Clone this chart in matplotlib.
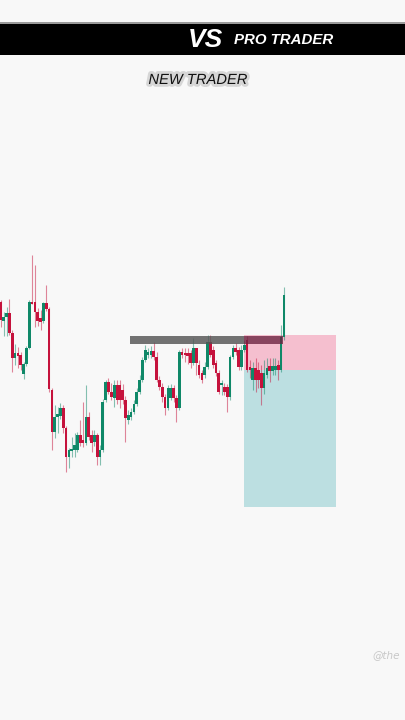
import matplotlib
matplotlib.use("Agg")
import matplotlib.pyplot as plt
import matplotlib.patheffects as pe
from matplotlib.patches import Rectangle

# Velas (precio en unidades del gráfico): apertura, cierre, máximo, mínimo
opens = [418, 399, 403, 407, 387, 362, 367, 365, 346, 356, 372, 418, 418, 408, 402, 399,
         417, 411, 330, 288, 303, 304, 312, 292, 263, 269, 270, 270, 285, 280, 277, 303,
         285, 278, 285, 263, 270, 320, 338, 328, 322, 335, 335, 330, 320, 300, 303, 308,
         316, 328, 340, 360, 365, 365, 369, 363, 340, 333, 323, 312, 322, 332, 322, 312,
         368, 367, 367, 367, 357, 372, 355, 347, 345, 353, 378, 370, 357, 347, 335, 333,
         333, 323, 363, 372, 370, 353, 370, 380, 353, 340, 352, 350, 347, 332, 345, 354,
         349, 350, 355, 350, 383]
closes = [400, 403, 407, 387, 362, 367, 364, 355, 356, 372, 418, 416, 408, 399, 398, 417,
          411, 331, 288, 303, 306, 312, 292, 263, 270, 271, 275, 285, 277, 277, 303, 283,
          277, 285, 263, 270, 318, 338, 328, 323, 335, 320, 320, 320, 302, 305, 308, 316,
          328, 340, 360, 370, 368, 369, 363, 340, 333, 323, 312, 332, 332, 322, 312, 368,
          365, 365, 364, 357, 372, 357, 345, 340, 353, 378, 365, 355, 347, 328, 335, 328,
          323, 363, 372, 368, 353, 370, 375, 350, 350, 352, 340, 340, 332, 347, 352, 349,
          354, 354, 350, 383, 425]
highs = [420, 408, 413, 421, 390, 376, 373, 368, 358, 374, 420, 465, 455, 412, 410, 418,
         435, 413, 332, 315, 313, 317, 315, 294, 272, 283, 287, 288, 300, 318, 335, 308,
         290, 290, 287, 275, 321, 340, 342, 337, 340, 340, 340, 336, 324, 310, 312, 320,
         332, 345, 363, 375, 372, 374, 378, 368, 344, 337, 326, 335, 336, 335, 325, 370,
         372, 372, 372, 370, 382, 372, 360, 350, 358, 385, 385, 374, 360, 350, 340, 337,
         336, 365, 375, 377, 373, 375, 380, 384, 360, 358, 362, 358, 355, 360, 362, 362,
         362, 362, 360, 395, 433]
lows = [393, 384, 384, 385, 348, 355, 352, 350, 341, 354, 371, 416, 393, 394, 390, 397,
        409, 328, 270, 282, 287, 301, 287, 248, 252, 263, 263, 268, 274, 273, 275, 280,
        268, 274, 255, 255, 268, 318, 326, 320, 313, 316, 312, 316, 278, 296, 300, 306,
        314, 326, 338, 358, 362, 362, 360, 338, 330, 318, 305, 310, 320, 318, 298, 310,
        362, 358, 356, 352, 355, 345, 342, 337, 342, 351, 363, 352, 344, 326, 325, 325,
        308, 320, 361, 365, 350, 350, 368, 348, 342, 330, 328, 332, 315, 326, 342, 338,
        345, 345, 340, 348, 380]

# Zonas: resistencia, entrada, stop y objetivo
res_lo, res_hi = 376, 384
res_start, res_end = 45.6, 99.6
entry, stop, target = 350, 385, 213
box_start, box_end = 85.8, 118.4

green = "#0f8868"
red = "#c5123c"
bg = "#f8f8f8"

fig = plt.figure(figsize=(4.05, 7.2), dpi=100)
fig.patch.set_facecolor(bg)
ax = fig.add_axes([0, 0, 1, 1])
ax.set_facecolor(bg)
ax.set_xlim(-0.35, 142.8)
ax.set_ylim(0, 720)
ax.axis("off")

# Cajas de la posición
ax.add_patch(Rectangle((box_start, entry), box_end - box_start, stop - entry,
                       facecolor="#f5bfcf", edgecolor="none", zorder=1))
ax.add_patch(Rectangle((box_start, target), box_end - box_start, entry - target,
                       facecolor="#bcdfe1", edgecolor="none", zorder=1))

# Velas
w = 0.95
for i in range(len(opens)):
    o, c, h, l = opens[i], closes[i], highs[i], lows[i]
    col = green if c >= o else red
    ax.vlines(i, l, h, color=col, lw=0.8, alpha=0.5, zorder=2)
    ax.add_patch(Rectangle((i - w / 2, min(o, c)), w, max(abs(c - o), 2),
                           facecolor=col, edgecolor="none", zorder=3))

# Barra de resistencia
ax.add_patch(Rectangle((res_start, res_lo), box_start - res_start, res_hi - res_lo,
                       facecolor="#555555", edgecolor="none", alpha=0.82, zorder=4))
ax.add_patch(Rectangle((box_start, res_lo), res_end - box_start, res_hi - res_lo,
                       facecolor="#6a2340", edgecolor="none", alpha=0.78, zorder=4))

# Encabezado
fig.add_artist(Rectangle((0, 1 - 24 / 720), 1, 2 / 720, transform=fig.transFigure,
                         facecolor="#9a9a9a", edgecolor="none"))
fig.add_artist(Rectangle((0, 1 - 55 / 720), 1, 31 / 720, transform=fig.transFigure,
                         facecolor="black", edgecolor="none"))
fig.text(205 / 405, 1 - 40 / 720, "VS", color="white", fontsize=19, fontweight="bold",
         style="italic", family="Liberation Sans", ha="center", va="center")
fig.text(284 / 405, 1 - 40 / 720, "PRO TRADER", color="white", fontsize=10.8,
         fontweight="bold", style="italic", family="Liberation Sans", ha="center", va="center")
fig.text(198 / 405, 1 - 80 / 720, "NEW TRADER", color="#111111", fontsize=10.6,
         style="italic", family="Liberation Sans", ha="center", va="center",
         path_effects=[pe.withStroke(linewidth=4, foreground="#d6d6d6")])

# Marca de agua
fig.text(372 / 405, 1 - 655 / 720, "@the", color="#c8c8c8", fontsize=7.5,
         style="italic", family="DejaVu Sans", ha="left", va="center")

fig.savefig("out.png", dpi=100, facecolor=bg)
